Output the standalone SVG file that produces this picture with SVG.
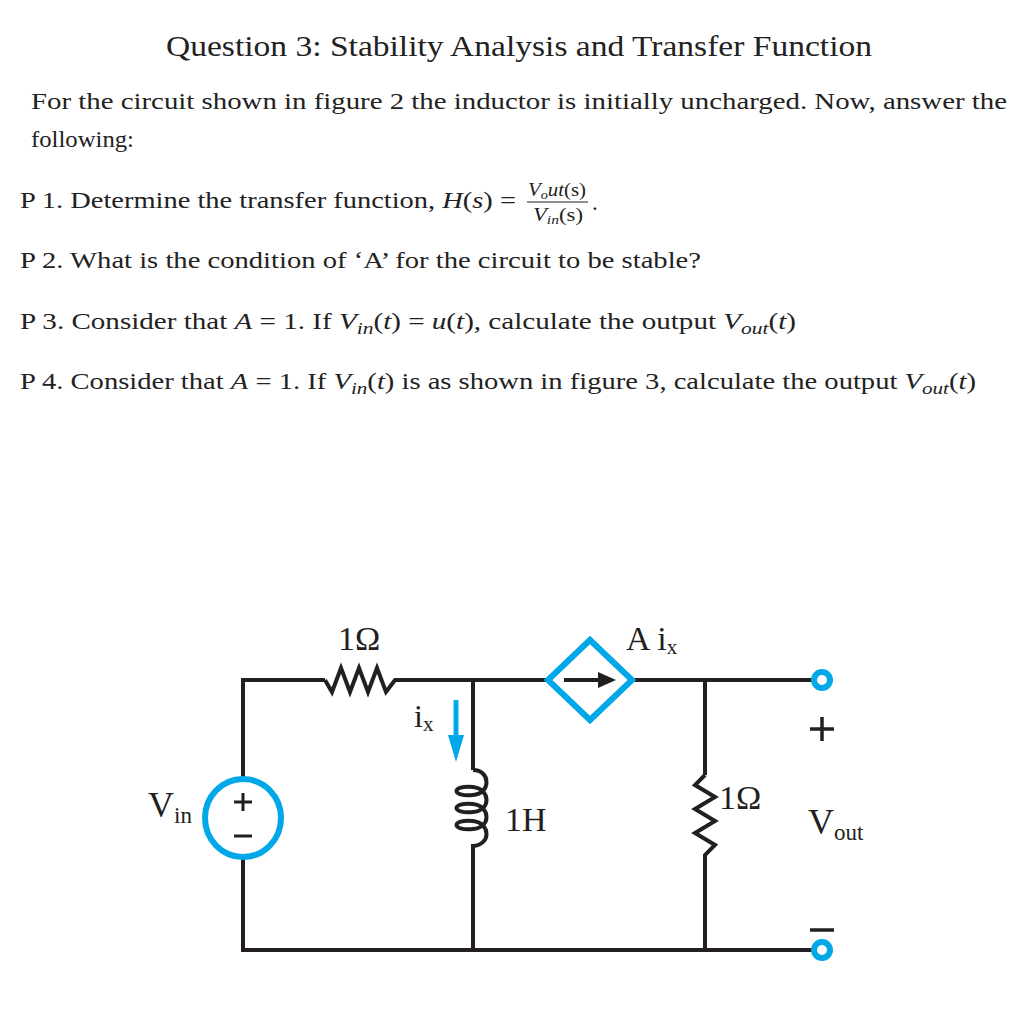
<svg xmlns="http://www.w3.org/2000/svg" width="1024" height="1022" viewBox="0 0 1024 1022">
<style>
.t{font-family:"Liberation Serif",serif;fill:#222}
.w{fill:none;stroke:#231f20;stroke-width:4}
.b{fill:none;stroke:#00a8e8;stroke-width:6}
.c{font-family:"Liberation Serif",serif;fill:#231f20}
</style>
<rect width="1024" height="1022" fill="#fff"/>
<g id="text" font-size="23">
<text x="166" y="56" class="t" font-size="29" textLength="706" lengthAdjust="spacingAndGlyphs">Question 3: Stability Analysis and Transfer Function</text>
<text x="31" y="109" class="t" textLength="976" lengthAdjust="spacingAndGlyphs">For the circuit shown in figure 2 the inductor is initially uncharged.  Now, answer the</text>
<text x="31" y="147" class="t" textLength="103" lengthAdjust="spacingAndGlyphs">following:</text>
<text x="20" y="208" class="t" textLength="496" lengthAdjust="spacingAndGlyphs">P 1.  Determine the transfer function, <tspan font-style="italic">H</tspan>(<tspan font-style="italic">s</tspan>) =</text>
<text x="528" y="196" class="t" font-size="19" font-style="italic" textLength="58" lengthAdjust="spacingAndGlyphs">V<tspan font-size="13" dy="3">o</tspan><tspan dy="-3">ut</tspan><tspan font-style="normal">(s)</tspan></text>
<line x1="527" y1="202" x2="588" y2="202" stroke="#222" stroke-width="1"/>
<text x="533" y="221" class="t" font-size="19" font-style="italic" textLength="50" lengthAdjust="spacingAndGlyphs">V<tspan font-size="13" dy="3">in</tspan><tspan font-style="normal" dy="-3">(s)</tspan></text>
<text x="592" y="210" class="t">.</text>
<text x="20" y="268" class="t" textLength="681" lengthAdjust="spacingAndGlyphs">P 2.  What is the condition of ‘A’ for the circuit to be stable?</text>
<text x="20" y="329" class="t" textLength="776" lengthAdjust="spacingAndGlyphs">P 3.  Consider that <tspan font-style="italic">A</tspan> = 1.  If <tspan font-style="italic">V</tspan><tspan font-style="italic" font-size="17" dy="5">in</tspan><tspan dy="-5">(</tspan><tspan font-style="italic">t</tspan>) = <tspan font-style="italic">u</tspan>(<tspan font-style="italic">t</tspan>), calculate the output <tspan font-style="italic">V</tspan><tspan font-style="italic" font-size="17" dy="5">out</tspan><tspan dy="-5">(</tspan><tspan font-style="italic">t</tspan>)</text>
<text x="20" y="389" class="t" textLength="956" lengthAdjust="spacingAndGlyphs">P 4.  Consider that <tspan font-style="italic">A</tspan> = 1.  If <tspan font-style="italic">V</tspan><tspan font-style="italic" font-size="17" dy="5">in</tspan><tspan dy="-5">(</tspan><tspan font-style="italic">t</tspan>) is as shown in figure 3, calculate the output <tspan font-style="italic">V</tspan><tspan font-style="italic" font-size="17" dy="5">out</tspan><tspan dy="-5">(</tspan><tspan font-style="italic">t</tspan>)</text>
</g>
<g id="wires">
<path class="w" d="M243 780 V680 H325 M400 680 H548 M632 680 H813 M473 680 V770 M473 870 V950 M705 680 V775 M705 860 V950 M243 856 V950 H813"/>
</g>
<g id="R1"><path class="w" d="M325 680 l7 12 l9 -24 l9 24 l9 -24 l9 24 l9 -24 l9 24 l9 -12 l6 0"/>
<text x="338" y="650" class="c" font-size="34">1Ω</text></g>
<g id="L1"><path class="w" d="M473 770 c18 0 18 24 0 25 c-22 2 -22 -10 0 -8 c18 2 18 24 0 25 c-22 2 -22 -10 0 -8 c18 2 18 24 0 25 c-22 2 -22 -10 0 -8 c18 2 18 24 0 25 V870"/>
<text x="505" y="831" class="c" font-size="34">1H</text></g>
<g id="ix"><line x1="456" y1="700" x2="456" y2="740" stroke="#00a8e8" stroke-width="5"/>
<polygon points="448,735 464,735 456,762" fill="#00a8e8"/>
<text x="414" y="727" class="c" font-size="32">i<tspan font-size="21" dy="4">x</tspan></text></g>
<g id="dep"><polygon class="b" points="548,680 590,640 632,680 590,720"/>
<line x1="564" y1="680" x2="602" y2="680" stroke="#231f20" stroke-width="4"/>
<polygon points="598,672 616,680 598,688" fill="#231f20"/>
<text x="626" y="650" class="c" font-size="34">A i<tspan font-size="21" dy="4">x</tspan></text></g>
<g id="R2"><path class="w" d="M705 775 l-10 10 l20 12 l-20 12 l20 12 l-20 12 l20 12 l-10 10 v5"/>
<text x="719" y="809" class="c" font-size="34">1Ω</text></g>
<g id="Vin"><ellipse cx="243" cy="818" rx="38" ry="39" class="b"/>
<path d="M243 793 v18 M234 802 h18 M234 836 h18" stroke="#231f20" stroke-width="3"/>
<text x="148" y="817" class="c" font-size="36">V<tspan font-size="23" dy="6">in</tspan></text></g>
<g id="out"><circle cx="822" cy="680" r="8" class="b" stroke-width="5" fill="#fff"/>
<circle cx="822" cy="950" r="8" class="b" stroke-width="5" fill="#fff"/>
<path d="M822 717 v24 M810 729 h24 M810 930 h24" stroke="#231f20" stroke-width="3.5"/>
<text x="808" y="834" class="c" font-size="36">V<tspan font-size="23" dy="6">out</tspan></text></g>
</svg>
